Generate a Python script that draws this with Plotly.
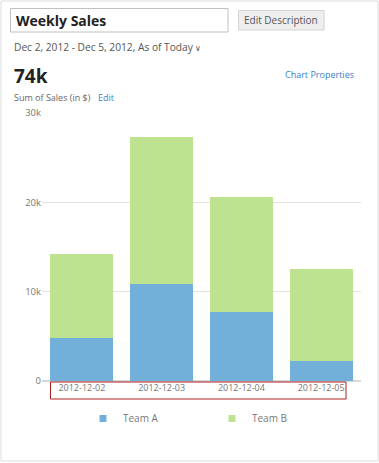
import plotly.graph_objects as go

dates = ["2012-12-02", "2012-12-03", "2012-12-04", "2012-12-05"]
team_a = [4800, 10900, 7700, 2200]
team_b = [9400, 16400, 12900, 10300]
series_names = ["Team A", "Team B"]
series_colors = ["#72b0d9", "#bde390"]
y_tickvals = [0, 10000, 20000, 30000]
y_ticktext = ["0", "10k", "20k", "30k"]

W, H = 379, 463
L, R, T, B = 42, 18, 113, 82
PW, PH = W - L - R, H - T - B

def px(x):
    return (x - L) / PW

def py(y):
    return (H - B - y) / PH

FONT = "Open Sans, Noto Sans, sans-serif"

fig = go.Figure()
for name, vals, col in zip(series_names, [team_a, team_b], series_colors):
    fig.add_trace(go.Bar(x=dates, y=vals, name=name, showlegend=False,
                         marker=dict(color=col, line=dict(width=0))))
# legend entries with small square swatches
for name, col in zip(series_names, series_colors):
    fig.add_trace(go.Scatter(x=[None], y=[None], mode="markers", name=name,
                             marker=dict(symbol="square", size=7, color=col)))

shapes = [
    dict(type="rect", xref="paper", yref="paper", x0=px(1), x1=px(378), y0=py(461), y1=py(1),
         line=dict(color="#dcdcdc", width=1), fillcolor="rgba(0,0,0,0)", layer="below"),
    dict(type="rect", xref="paper", yref="paper", x0=px(10.5), x1=px(228), y0=py(32), y1=py(8.5),
         line=dict(color="#c0c0c0", width=1), fillcolor="white"),
    dict(type="rect", xref="paper", yref="paper", x0=px(238.5), x1=px(324), y0=py(30), y1=py(10.5),
         line=dict(color="#d4d4d4", width=1), fillcolor="#eeeeee"),
    dict(type="rect", xref="paper", yref="paper", x0=px(50.5), x1=px(346), y0=py(399), y1=py(382),
         line=dict(color="#b01e1e", width=1), fillcolor="rgba(0,0,0,0)"),
]

annotations = [
    dict(text="<b>Weekly Sales</b>", x=px(14), y=py(20), xanchor="left", yanchor="middle",
         font=dict(size=14, color="#222", family=FONT)),
    dict(text="Edit Description", x=px(281), y=py(20), xanchor="center", yanchor="middle",
         font=dict(size=10, color="#555", family=FONT)),
    dict(text="Dec 2, 2012 - Dec 5, 2012, As of Today <span style='font-size:8px'>∨</span>",
         x=px(12), y=py(47), xanchor="left", yanchor="middle",
         font=dict(size=10.2, color="#555", family=FONT)),
    dict(text="<b>74k</b>", x=px(12), y=py(76), xanchor="left", yanchor="middle",
         font=dict(size=19, color="#222", family=FONT)),
    dict(text="Chart Properties", x=px(356), y=py(75), xanchor="right", yanchor="middle",
         font=dict(size=9, color="#3a7ec9", family=FONT)),
    dict(text="Sum of Sales (in $)", x=px(12), y=py(98), xanchor="left", yanchor="middle",
         font=dict(size=9, color="#666", family=FONT)),
    dict(text="Edit", x=px(96), y=py(98), xanchor="left", yanchor="middle",
         font=dict(size=9, color="#3a7ec9", family=FONT)),
]
for a in annotations:
    a.update(xref="paper", yref="paper", showarrow=False)

fig.update_layout(
    width=W, height=H,
    margin=dict(l=L, r=R, t=T, b=B, pad=0),
    barmode="stack", bargap=0.21,
    paper_bgcolor="white", plot_bgcolor="white",
    font=dict(family=FONT, size=10, color="#666"),
    shapes=shapes, annotations=annotations,
    legend=dict(orientation="h", x=px(83), y=py(404), xanchor="left", yanchor="top",
                traceorder="normal", entrywidth=84, entrywidthmode="pixels",
                font=dict(size=10, color="#777"), itemclick=False),
    xaxis=dict(type="category", showgrid=False, tickfont=dict(size=9, color="#777"), ticks="",
               showline=False, fixedrange=True),
    yaxis=dict(range=[0, 30000], tickvals=y_tickvals, ticktext=y_ticktext, gridcolor="#e2e2e2",
               zeroline=True, zerolinecolor="#d8d8d8", tickfont=dict(size=9.5, color="#777"),
               ticks="", fixedrange=True),
)

fig.write_html("out.html", config=dict(displayModeBar=False))
